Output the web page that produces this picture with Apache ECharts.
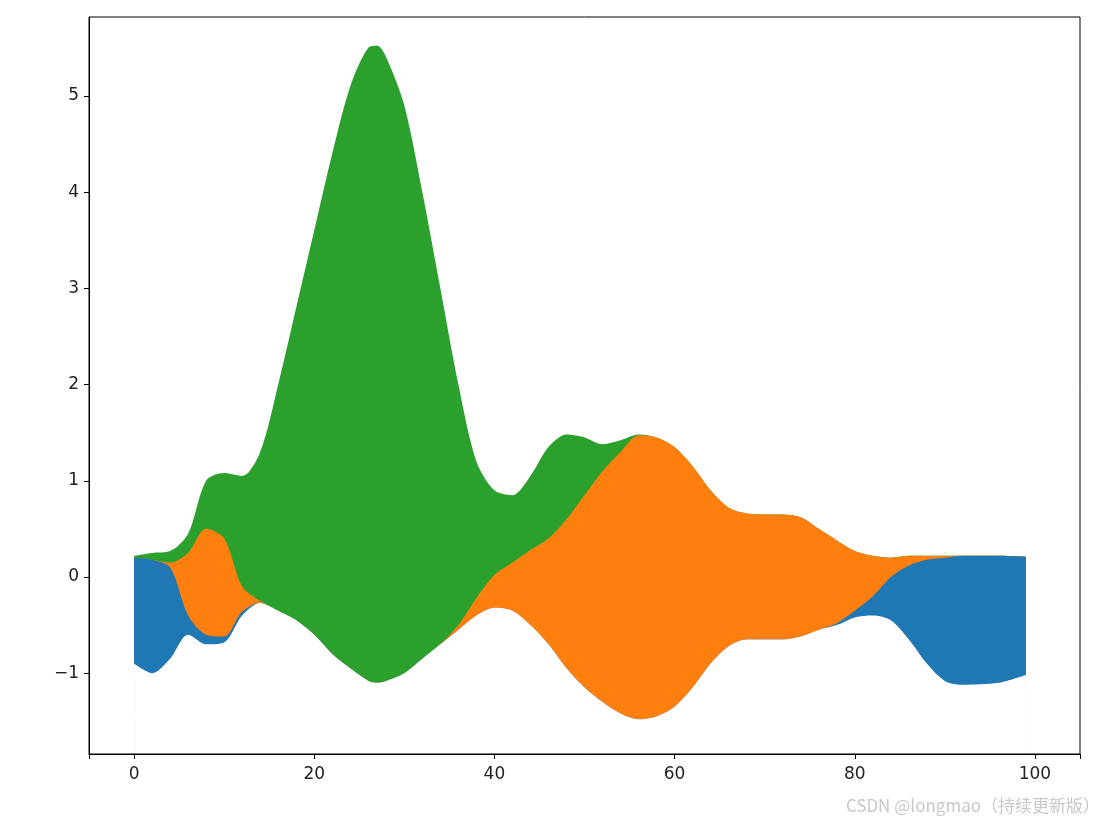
<!DOCTYPE html>
<html>
<head>
<meta charset="utf-8">
<script src="https://cdn.jsdelivr.net/npm/echarts@6/dist/echarts.min.js"></script>
<style>html,body{margin:0;background:#fff}#main{width:1114px;height:818px}</style>
</head>
<body>
<div id="main"></div>
<script>
// boundaries of the stack
var xs        = [0, 2, 4, 6, 8, 10, 12, 14, 16, 18, 20, 22, 24, 26, 27, 28, 30, 32, 34, 36, 38, 40, 42, 44, 46, 48, 50, 52, 54, 56, 58, 60, 62, 64, 66, 68, 70, 72, 74, 76, 78, 80, 82, 84, 86, 88, 90, 92, 96, 99];
var bottom    = [-0.9, -1.0, -0.85, -0.6, -0.7, -0.68, -0.4, -0.27, -0.35, -0.45, -0.6, -0.8, -0.95, -1.08, -1.1, -1.08, -1.0, -0.85, -0.7, -0.55, -0.4, -0.32, -0.35, -0.5, -0.7, -0.95, -1.15, -1.3, -1.42, -1.48, -1.45, -1.35, -1.15, -0.9, -0.72, -0.65, -0.65, -0.65, -0.62, -0.55, -0.5, -0.42, -0.4, -0.45, -0.65, -0.9, -1.08, -1.12, -1.1, -1.02];
var blueTop   = [0.2, 0.18, 0.1, -0.4, -0.6, -0.62, -0.36, -0.27, -0.35, -0.45, -0.6, -0.8, -0.95, -1.08, -1.1, -1.08, -1.0, -0.85, -0.7, -0.55, -0.4, -0.32, -0.35, -0.5, -0.7, -0.95, -1.15, -1.3, -1.42, -1.48, -1.45, -1.35, -1.15, -0.9, -0.72, -0.65, -0.65, -0.65, -0.62, -0.55, -0.48, -0.35, -0.2, 0.0, 0.12, 0.18, 0.2, 0.22, 0.22, 0.21];
var orangeTop = [0.2, 0.18, 0.15, 0.25, 0.5, 0.4, -0.1, -0.25, -0.35, -0.45, -0.6, -0.8, -0.95, -1.08, -1.1, -1.08, -1.0, -0.85, -0.7, -0.5, -0.22, 0.02, 0.15, 0.28, 0.4, 0.6, 0.85, 1.1, 1.3, 1.47, 1.45, 1.35, 1.15, 0.9, 0.72, 0.66, 0.65, 0.65, 0.62, 0.5, 0.38, 0.27, 0.22, 0.2, 0.22, 0.22, 0.22, 0.22, 0.22, 0.21];
var greenTop  = [0.22, 0.25, 0.27, 0.45, 1.0, 1.08, 1.05, 1.3, 2.0, 2.8, 3.6, 4.4, 5.1, 5.5, 5.52, 5.4, 4.9, 4.0, 3.0, 2.0, 1.2, 0.9, 0.85, 1.05, 1.35, 1.48, 1.45, 1.38, 1.42, 1.48, 1.45, 1.35, 1.15, 0.9, 0.72, 0.66, 0.65, 0.65, 0.62, 0.5, 0.38, 0.27, 0.22, 0.2, 0.22, 0.22, 0.22, 0.22, 0.22, 0.21];

function pairs(arr) {
    return xs.map(function (x, i) { return [x, arr[i]]; });
}

// each boundary is filled down to the axis bottom; later ones paint over earlier ones
function layer(name, arr, color) {
    return {
        name: name, type: 'line',
        data: pairs(arr), smooth: 0.3, symbol: 'none',
        lineStyle: { width: 0 },
        areaStyle: { color: color, opacity: 1, origin: 'start' },
        silent: true
    };
}

var myChart = echarts.init(document.getElementById('main'));
var labelStyle = { color: '#222', fontSize: 17, fontFamily: 'DejaVu Sans' };
myChart.setOption({
    animation: false,
    grid: { left: 89, right: 34, top: 17, bottom: 64, show: true, borderColor: '#000', borderWidth: 1, z: 10 },
    xAxis: {
        type: 'value', min: -5, max: 105, splitNumber: 5,
        axisLine: { show: true, onZero: false, lineStyle: { color: '#000' } },
        axisTick: { show: true, length: 5, lineStyle: { color: '#000' } },
        splitLine: { show: false },
        axisLabel: Object.assign({}, labelStyle, { margin: 12, formatter: function (v) { return v < 0 || v > 100 ? '' : v; } }),
        z: 10
    },
    yAxis: {
        type: 'value', min: -1.84, max: 5.82, splitNumber: 8,
        axisLine: { show: true, onZero: false, lineStyle: { color: '#000' } },
        axisTick: { show: true, length: 5, lineStyle: { color: '#000' } },
        splitLine: { show: false },
        axisLabel: Object.assign({}, labelStyle, { margin: 10, showMinLabel: false, showMaxLabel: false,
            formatter: function (v) { return v < 0 ? '\u2212' + (-v) : v; } }),
        z: 10
    },
    graphic: [{
        type: 'text', right: 14, bottom: 4,
        style: { text: 'CSDN @longmao（持续更新版）', fill: '#c8c8c8', fontSize: 17, fontFamily: 'Noto Sans CJK SC' }
    }],
    series: [
        layer('c', greenTop, '#2ca02c'),
        layer('b', orangeTop, '#ff7f0e'),
        layer('a', blueTop, '#1f77b4'),
        layer('base', bottom, '#ffffff')
    ]
});
</script>
</body>
</html>
